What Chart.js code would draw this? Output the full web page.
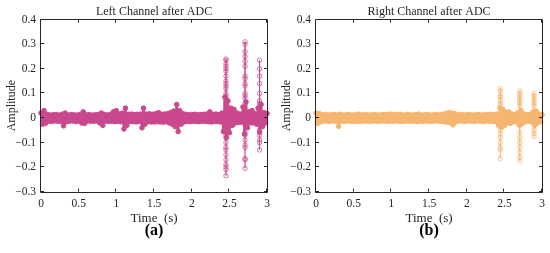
<!DOCTYPE html>
<html>
<head>
<meta charset="utf-8">
<script src="https://cdn.jsdelivr.net/npm/chart.js@4.4.1/dist/chart.umd.min.js"></script>
<style>
  html, body { margin: 0; padding: 0; background: #ffffff; }
  #wrap { position: relative; width: 550px; height: 253px; overflow: hidden; }
  canvas { position: absolute; top: 0; }
</style>
</head>
<body>
<div id="wrap">
  <canvas id="left" width="275" height="253" style="left:0px"></canvas>
  <canvas id="right" width="275" height="253" style="left:275px"></canvas>
</div>
<script>
// ---------- data ----------
const SAMPLE_STEP = 0.02;            // time grid of the band samples (s)
const xTickValues = [0, 0.5, 1, 1.5, 2, 2.5, 3];
const yTickValues = [-0.3, -0.2, -0.1, 0, 0.1, 0.2, 0.3, 0.4];

const leftBand = [
  0.020,-0.025,0.030,-0.022,0.015,-0.013,0.012,-0.014,0.013,-0.012,
  0.014,-0.013,0.012,-0.014,0.015,-0.032,0.020,-0.015,0.012,-0.013,
  0.014,-0.012,0.013,-0.014,0.012,-0.013,0.014,-0.020,0.025,-0.022,
  0.013,-0.012,0.014,-0.013,0.012,-0.014,0.013,-0.012,0.014,-0.020,
  0.020,-0.030,0.015,-0.013,0.012,-0.014,0.015,-0.013,0.025,-0.015,
  0.030,-0.014,0.016,-0.015,0.020,-0.045,0.040,-0.030,0.015,-0.014,
  0.016,-0.015,0.014,-0.016,0.015,-0.014,0.016,-0.040,0.040,-0.025,
  0.016,-0.015,0.017,-0.016,0.015,-0.016,0.017,-0.015,0.022,-0.016,
  0.015,-0.017,0.016,-0.015,0.018,-0.020,0.022,-0.025,0.028,-0.035,
  0.055,-0.055,0.030,-0.025,0.018,-0.016,0.015,-0.014,0.013,-0.015,
  0.014,-0.013,0.015,-0.014,0.013,-0.015,0.014,-0.013,0.015,-0.014,
  0.016,-0.015,0.025,-0.016,0.015,-0.014,0.016,-0.015,0.014,-0.016,
  0.020,-0.055,0.085,-0.080,0.070,-0.060,0.040,-0.030,0.035,-0.020,
  0.020,-0.018,0.016,-0.017,0.045,-0.065,0.065,-0.040,0.025,-0.020,
  0.030,-0.020,0.018,-0.025,0.040,-0.058,0.055,-0.035,0.022,-0.020,
  0.018
];
const rightBand = [
  0.020,-0.022,0.018,-0.016,0.013,-0.012,0.014,-0.013,0.012,-0.014,
  0.013,-0.012,0.014,-0.013,0.012,-0.034,0.015,-0.013,0.012,-0.014,
  0.013,-0.012,0.014,-0.013,0.012,-0.014,0.013,-0.015,0.016,-0.014,
  0.012,-0.013,0.014,-0.012,0.013,-0.014,0.012,-0.013,0.014,-0.012,
  0.013,-0.014,0.012,-0.013,0.014,-0.012,0.013,-0.014,0.015,-0.013,
  0.016,-0.014,0.013,-0.012,0.014,-0.013,0.015,-0.014,0.012,-0.013,
  0.014,-0.012,0.013,-0.014,0.012,-0.013,0.014,-0.015,0.016,-0.013,
  0.012,-0.014,0.013,-0.012,0.014,-0.013,0.012,-0.014,0.013,-0.012,
  0.014,-0.013,0.012,-0.014,0.015,-0.016,0.018,-0.017,0.022,-0.020,
  0.020,-0.028,0.018,-0.015,0.013,-0.012,0.014,-0.013,0.012,-0.014,
  0.013,-0.012,0.014,-0.013,0.012,-0.014,0.013,-0.012,0.014,-0.013,
  0.012,-0.014,0.013,-0.012,0.014,-0.013,0.015,-0.014,0.013,-0.015,
  0.016,-0.030,0.040,-0.038,0.035,-0.030,0.022,-0.020,0.025,-0.022,
  0.016,-0.015,0.014,-0.016,0.022,-0.030,0.030,-0.022,0.016,-0.015,
  0.014,-0.013,0.015,-0.016,0.025,-0.030,0.028,-0.020,0.016,-0.015,
  0.014
];

const spikeTimesL = [2.454, 2.707, 2.900];
const spikeL1 = [0.24,-0.235,0.235,-0.21,0.22,-0.20,0.21,-0.19,0.20,-0.17,0.19,-0.15,0.17,-0.13,0.15,-0.12,0.14,-0.10,0.13,-0.08,0.12,-0.07,0.10,-0.06,0.09,-0.05,0.08,0.07,0.06,0.05];
const spikeL2 = [0.31,-0.205,0.30,-0.17,0.27,-0.165,0.25,-0.12,0.23,-0.11,0.21,-0.09,0.17,-0.07,0.16,-0.06,0.14,0.13,0.10,0.09,0.08,0.06];
const spikeL3 = [0.235,-0.13,0.20,-0.10,0.17,-0.09,0.14,-0.07,0.10,-0.05,0.07,0.06,0.05];

const spikeTimesR = [2.445, 2.703, 2.892];
const spikeR1 = [0.12,-0.165,0.11,-0.13,0.09,-0.12,0.085,-0.10,0.07,-0.08,0.06,-0.065,0.05,-0.05];
const spikeR2 = [0.11,-0.175,0.10,-0.16,0.09,-0.14,0.08,-0.12,0.07,-0.10,0.06,-0.08,0.05,-0.06];
const spikeR3 = [0.10,-0.075,0.09,-0.065,0.08,-0.05,0.07,0.06,0.05];

// ---------- rendering ----------
const SERIF = '"Liberation Serif", "Times New Roman", serif';

function fmt(v) {
  const r = Math.round(v * 10) / 10;
  const s = String(Math.abs(r));
  return (r < 0 ? '\u2212' : '') + s;
}

const framePlugin = {
  id: 'frame',
  afterDatasetsDraw(chart) {
    const { ctx, chartArea } = chart;
    const { left, right, top, bottom } = chartArea;
    const xs = chart.scales.x, ys = chart.scales.y;
    ctx.save();
    ctx.strokeStyle = '#262626';
    ctx.lineWidth = 1;
    ctx.beginPath();
    ctx.rect(Math.round(left) - 0.5, Math.round(top) - 0.5, Math.round(right) - Math.round(left) + 1, Math.round(bottom) - Math.round(top) + 1);
    ctx.stroke();
    const tl = 3;
    ctx.beginPath();
    xTickValues.forEach(v => {
      const px = Math.round(xs.getPixelForValue(v)) - 0.5;
      ctx.moveTo(px, bottom); ctx.lineTo(px, bottom - tl);
      ctx.moveTo(px, top); ctx.lineTo(px, top + tl);
    });
    yTickValues.forEach(v => {
      const py = Math.round(ys.getPixelForValue(v)) - 0.5;
      ctx.moveTo(left, py); ctx.lineTo(left + tl, py);
      ctx.moveTo(right, py); ctx.lineTo(right - tl, py);
    });
    ctx.stroke();
    ctx.restore();
  }
};

function bandPoints(vals) {
  return vals.map((v, i) => ({ x: Math.round(i * SAMPLE_STEP * 1000) / 1000, y: v }));
}
function spikePoints(t, vals) {
  return vals.map(v => ({ x: t, y: v }));
}

function makeChart(id, title, label, color, band, spikeTimes, spikes) {
  const spikeStyle = {
    showLine: true,
    borderColor: color,
    borderWidth: 0.75,
    pointStyle: 'circle',
    pointRadius: 2.2,
    pointBorderWidth: 0.75,
    pointBorderColor: color,
    pointBackgroundColor: 'rgba(0,0,0,0)',
    pointHoverRadius: 2.2,
    tension: 0,
    clip: 3
  };
  const bandStyle = Object.assign({}, spikeStyle, {
    borderWidth: 2.4,
    borderJoinStyle: 'round',
    borderCapStyle: 'round',
    pointRadius: 2.3,
    pointHoverRadius: 2.3,
    pointBorderWidth: 1,
    pointBackgroundColor: color
  });
  const datasets = spikes.map((s, k) => Object.assign({ data: spikePoints(spikeTimes[k], s) }, spikeStyle));
  datasets.push(Object.assign({ data: bandPoints(band) }, bandStyle));

  return new Chart(document.getElementById(id), {
    type: 'scatter',
    data: { datasets },
    options: {
      responsive: false,
      animation: false,
      devicePixelRatio: 1,
      events: [],
      layout: { padding: { left: 0, right: 5, top: 0, bottom: 0 } },
      plugins: {
        legend: { display: false },
        tooltip: { enabled: false },
        title: {
          display: true, text: title, fullSize: false,
          color: '#262626',
          font: { family: SERIF, size: 12, weight: 'normal', lineHeight: 1.1 },
          padding: { top: 5, bottom: 1.5 }
        },
        subtitle: {
          display: true, text: label, position: 'bottom', fullSize: false,
          color: '#000000',
          font: { family: SERIF, size: 16, weight: 'bold', lineHeight: 1.2 },
          padding: { top: -4.6, bottom: 12.4 }
        }
      },
      scales: {
        x: {
          type: 'linear', min: 0, max: 3,
          afterFit(scale) { scale.height = 34.3; },
          afterBuildTicks(scale) { scale.ticks = xTickValues.map(v => ({ value: v })); },
          grid: { display: false, drawTicks: false },
          border: { display: false },
          ticks: {
            color: '#262626', padding: 5,
            font: { family: SERIF, size: 11.5, lineHeight: 1.2 },
            callback: v => fmt(v), maxRotation: 0, autoSkip: false
          },
          title: {
            display: true, text: 'Time  (s)', color: '#262626',
            font: { family: SERIF, size: 13, lineHeight: 1.2 },
            padding: { top: 0, bottom: 0 }
          }
        },
        y: {
          type: 'linear', min: -0.3, max: 0.4,
          afterFit(scale) { scale.width = 41; },
          afterBuildTicks(scale) { scale.ticks = yTickValues.map(v => ({ value: v })); },
          grid: { display: false, drawTicks: false },
          border: { display: false },
          ticks: {
            color: '#262626', padding: 5,
            font: { family: SERIF, size: 11.5, lineHeight: 1.2 },
            callback: v => fmt(v), autoSkip: false
          },
          title: {
            display: true, text: 'Amplitude', color: '#262626',
            font: { family: SERIF, size: 12, lineHeight: 1.2 },
            padding: { top: 5, bottom: 0 }
          }
        }
      }
    },
    plugins: [framePlugin]
  });
}

makeChart('left', 'Left Channel after ADC', '(a)', 'rgb(201,73,140)', leftBand, spikeTimesL, [spikeL1, spikeL2, spikeL3]);
makeChart('right', 'Right Channel after ADC', '(b)', 'rgb(246,182,112)', rightBand, spikeTimesR, [spikeR1, spikeR2, spikeR3]);
</script>
</body>
</html>
